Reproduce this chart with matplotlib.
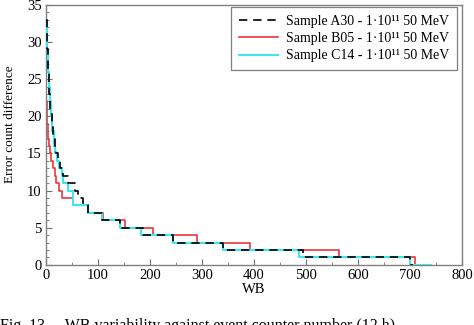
import matplotlib
matplotlib.use("Agg")
import matplotlib.pyplot as plt
from matplotlib.ticker import MultipleLocator

# step data: WB value where the error count drops to the given level
wb_a30 = [0, 2, 4, 6, 8, 11, 14, 17, 20, 23, 27, 32, 42, 56, 62, 72, 81, 108, 142, 187, 245, 340, 494, 700, 705]
err_a30 = [33, 29, 26, 23, 21, 19, 17, 16, 15, 14, 13, 12, 11, 10, 9, 8, 7, 6, 5, 4, 3, 2, 1, 0, 0]

wb_b05 = [0, 1, 2, 3, 5, 7, 9, 13, 17, 20, 25, 30, 52, 81, 110, 152, 206, 290, 392, 563, 710, 740]
err_b05 = [25, 22, 19, 17, 16, 15, 14, 13, 12, 11, 10, 9, 8, 7, 6, 5, 4, 3, 2, 1, 0, 0]

wb_c14 = [0, 2, 4, 6, 8, 10, 12, 15, 18, 21, 25, 30, 33, 42, 52, 81, 107, 142, 183, 245, 340, 487, 700, 740]
err_c14 = [33, 29, 26, 24, 22, 20, 18, 16, 15, 14, 13, 12, 11, 10, 8, 7, 6, 5, 4, 3, 2, 1, 0, 0]

labels = [
    "Sample A30 - 1·10¹¹ 50 MeV",
    "Sample B05 - 1·10¹¹ 50 MeV",
    "Sample C14 - 1·10¹¹ 50 MeV",
]

plt.rcParams["font.family"] = ["Liberation Serif", "DejaVu Serif"]
plt.rcParams["font.size"] = 10.5

fig = plt.figure(figsize=(4.74, 3.25), dpi=100)
ax = fig.add_axes([0.097, 0.185, 0.878, 0.80])

ax.plot(wb_a30, err_a30, drawstyle="steps-post", color="black",
        linestyle=(0, (5, 3.5)), linewidth=1.2, label=labels[0], zorder=4)
ax.plot(wb_b05, err_b05, drawstyle="steps-post", color="#e8383c",
        linewidth=1.2, label=labels[1], zorder=2)
ax.plot(wb_c14, err_c14, drawstyle="steps-post", color="#3fe6ee",
        linewidth=1.5, label=labels[2], zorder=3)

ax.set_xlim(0, 800)
ax.set_ylim(0, 35)
ax.xaxis.set_major_locator(MultipleLocator(100))
ax.xaxis.set_minor_locator(MultipleLocator(50))
ax.yaxis.set_major_locator(MultipleLocator(5))
ax.yaxis.set_minor_locator(MultipleLocator(1))
ax.tick_params(which="both", direction="in", top=False, right=False,
               color="#707070", labelsize=10.5, pad=3)
ax.tick_params(which="major", length=4)
ax.tick_params(which="minor", length=2)
for spine in ax.spines.values():
    spine.set_color("#808080")
    spine.set_linewidth(1.0)

ax.set_xlabel("WB", labelpad=1)
ax.set_ylabel("Error count difference", fontsize=9.5)
ax.yaxis.set_label_coords(-0.072, 0.54)

leg = ax.legend(loc="upper right", bbox_to_anchor=(0.988, 0.99),
                fancybox=False, handlelength=2.8, handletextpad=0.6,
                borderpad=0.55, labelspacing=0.3, fontsize=10,
                borderaxespad=0.0)
leg.get_frame().set_edgecolor("#606060")
leg.get_frame().set_linewidth(0.9)

fig.text(0.0, 0.02, "Fig. 13     WB variability against event counter number (12 h)",
         fontsize=11.5, va="top", ha="left")

fig.savefig("out.png", dpi=100)
plt.close(fig)
